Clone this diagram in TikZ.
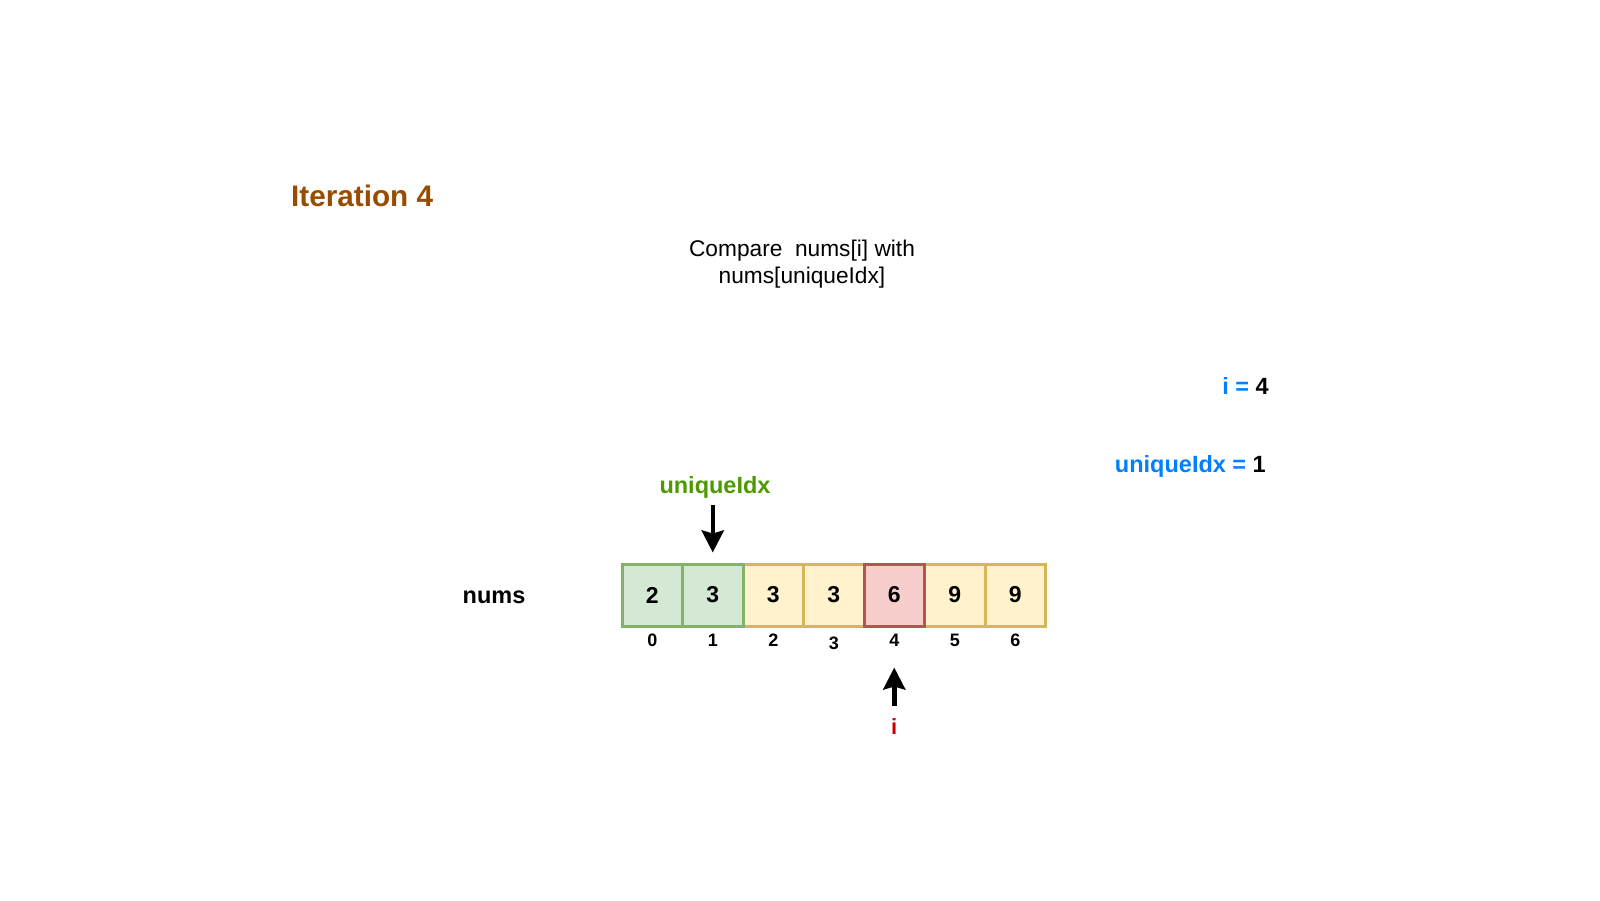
\documentclass[tikz,border=0pt]{standalone}
\usepackage{fontspec}
\setmainfont{Liberation Sans}
\usetikzlibrary{arrows.meta}
\definecolor{iterc}{HTML}{994C00}
\definecolor{grtext}{HTML}{4D9900}
\definecolor{bltext}{HTML}{007FFF}
\definecolor{rdtext}{HTML}{CC0000}
\definecolor{gfill}{HTML}{D5E8D4}
\definecolor{gline}{HTML}{82B366}
\definecolor{yfill}{HTML}{FFF2CC}
\definecolor{yline}{HTML}{D6B656}
\definecolor{rfill}{HTML}{F8CECC}
\definecolor{rline}{HTML}{B85450}
\tikzset{
  cellbox/.style={minimum width=60.5pt,minimum height=62pt,inner sep=0pt,line width=3pt,
    font=\fontsize{23}{27}\selectfont\bfseries},
  gcell/.style={cellbox,draw=gline,fill=gfill},
  ycell/.style={cellbox,draw=yline,fill=yfill},
  rcell/.style={cellbox,draw=rline,fill=rfill},
  idxlab/.style={font=\fontsize{18}{20}\selectfont\bfseries,inner sep=0pt},
  boldlab/.style={font=\fontsize{23.5}{27}\selectfont\bfseries,inner sep=0pt},
  ptr/.style={line width=4.5pt,-{Stealth[length=22pt,width=22pt,inset=3pt]}},
}
\begin{document}
\begin{tikzpicture}[x=1pt,y=-1pt]
\useasboundingbox (0,0) rectangle (1600,900);
\node[font=\fontsize{29.7}{34}\selectfont\bfseries,text=iterc,anchor=west,inner sep=0pt] (title) at (291,196) {Iteration 4};
\node[font=\fontsize{22.7}{27.5}\selectfont,align=center,inner sep=0pt] (cmp) at (802,264) {Compare\ \ nums[i] with\\nums[uniqueIdx]};
\node[boldlab,anchor=east] (iv) at (1269,386) {\textcolor{bltext}{i =} 4};
\node[boldlab,anchor=east] (uv) at (1266,466) {\textcolor{bltext}{uniqueIdx =} 1};
\node[boldlab] (nums) at (494,597) {nums};
% cells (yellow first, then green, then red on top)
\node[ycell] (c2) at (773.25,595) {3};
\node[ycell] (c3) at (833.75,595) {3};
\node[ycell] (c5) at (954.75,595) {9};
\node[ycell] (c6) at (1015.25,595) {9};
\node[gcell] (c0) at (652.25,595) {2};
\node[gcell] (c1) at (712.75,595) {3};
\node[rcell] (c4) at (894.25,595) {6};
% indices
\node[idxlab] (i0) at (652.25,640) {0};
\node[idxlab] (i1) at (712.75,640) {1};
\node[idxlab] (i2) at (773.25,640) {2};
\node[idxlab] (i3) at (833.75,643) {3};
\node[idxlab] (i4) at (894.25,640) {4};
\node[idxlab] (i5) at (954.75,640) {5};
\node[idxlab] (i6) at (1015.25,640) {6};
% pointers
\node[boldlab,text=grtext] (ul) at (715,487) {uniqueIdx};
\coordinate (uaS) at (712.75,505);
\draw[ptr] (uaS) -- ([yshift=10pt]c1.north);
\node[font=\fontsize{22}{26}\selectfont\bfseries,text=rdtext,inner sep=0pt] (il) at (894.25,727) {i};
\coordinate (iaS) at (894.25,706);
\draw[ptr] (iaS) -- ([yshift=-40pt]c4.south);
\end{tikzpicture}
\end{document}
